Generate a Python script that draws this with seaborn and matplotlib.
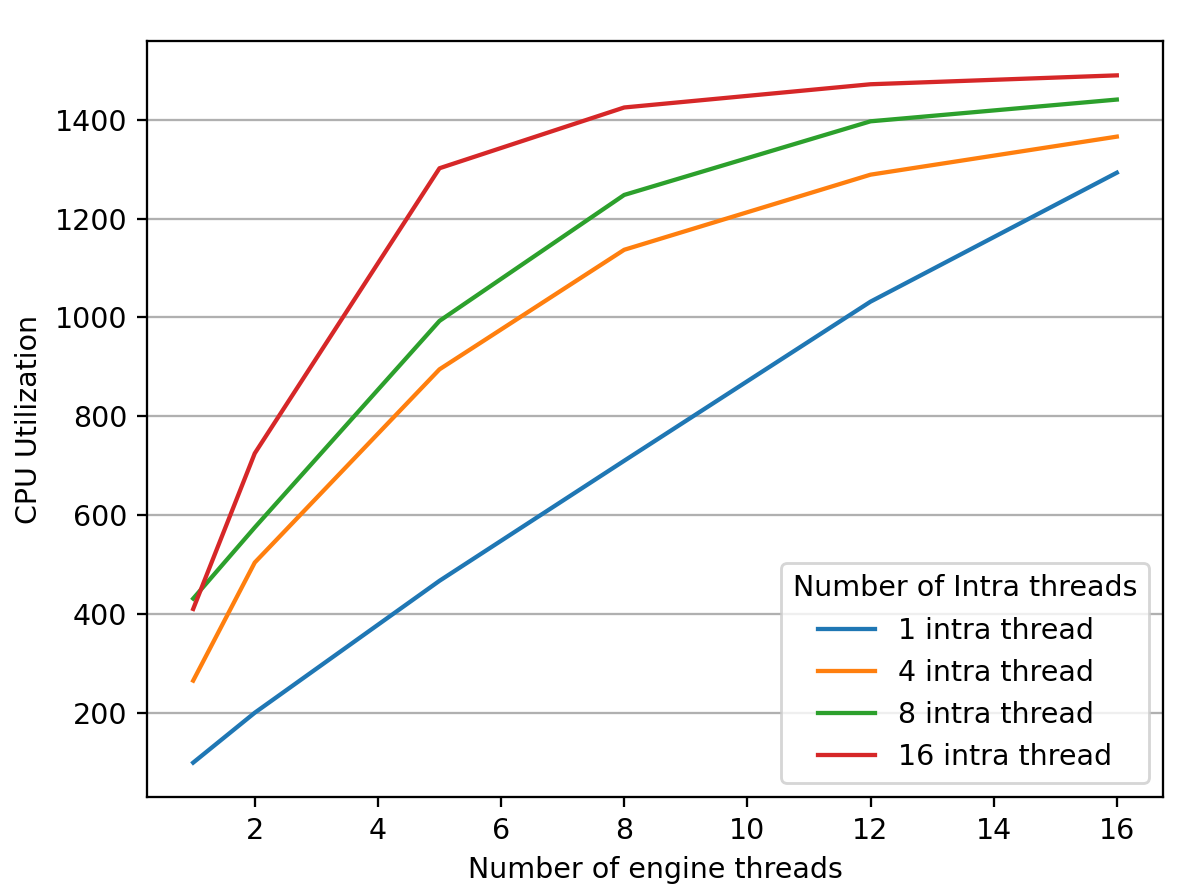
import matplotlib
matplotlib.use("Agg")
import matplotlib.pyplot as plt
import seaborn as sns
import pandas as pd

# engine threads on the x axis
engine_threads = [1, 2, 5, 8, 12, 16]

# CPU utilization per intra-thread setting
util_1 = [99, 200, 467, 710, 1032, 1293]
util_4 = [265, 504, 895, 1137, 1289, 1366]
util_8 = [431, 575, 993, 1248, 1397, 1441]
util_16 = [410, 725, 1302, 1425, 1472, 1490]

series_labels = ["1 intra thread", "4 intra thread", "8 intra thread", "16 intra thread"]
series_values = [util_1, util_4, util_8, util_16]

rows = []
for label, vals in zip(series_labels, series_values):
    for x, y in zip(engine_threads, vals):
        rows.append({"engine": x, "util": y, "intra": label})
df = pd.DataFrame(rows)

dpi = 205
fig = plt.figure(figsize=(1200 / dpi, 891 / dpi), dpi=dpi)
ax = fig.add_axes([147 / 1200, 1 - 797 / 891, (1163 - 147) / 1200, (797 - 41) / 891])

sns.lineplot(data=df, x="engine", y="util", hue="intra", hue_order=series_labels,
             palette="tab10", ax=ax, linewidth=1.5)

ax.grid(axis="y", color="#b0b0b0", linewidth=0.8)
ax.set_axisbelow(True)
ax.set_xlabel("Number of engine threads")
ax.set_ylabel("CPU Utilization")
ax.legend(title="Number of Intra threads", loc="lower right")

fig.savefig("out.png", dpi=dpi)
